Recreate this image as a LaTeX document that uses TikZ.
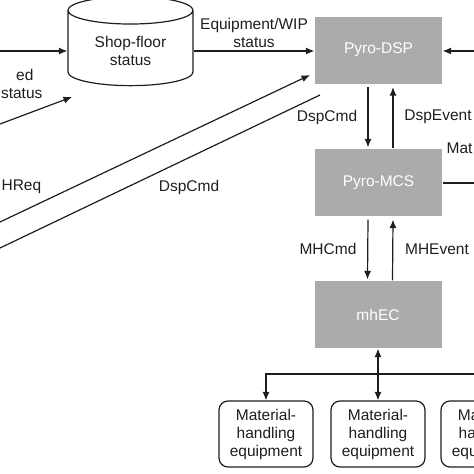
\documentclass[tikz,border=0pt]{standalone}
\usepackage{fontspec}
\setmainfont{Liberation Sans}
\usetikzlibrary{arrows.meta,shapes.geometric}
\definecolor{boxgray}{HTML}{ABABAB}
\definecolor{ink}{HTML}{1E1E1E}
\begin{document}
\begin{tikzpicture}[x=1pt,y=-1pt,
  font=\fontsize{15.5}{18}\selectfont,
  color=ink, line width=1.2pt,
  arr/.style={-{Latex[length=8.5pt,width=7pt]}},
  graybox/.style={rectangle, fill=boxgray, draw=none, text=white, minimum width=127pt, minimum height=67pt},
  eqbox/.style={rectangle, rounded corners=9pt, draw, minimum width=94pt, minimum height=66pt, align=center, inner sep=1pt},
  lbl/.style={inner sep=0pt}]
\useasboundingbox (0,0) rectangle (474,474);
%shop-floor store
\node[cylinder, shape border rotate=90, aspect=0.35, draw,
  minimum width=125pt, minimum height=89pt, align=center] (cyl) at (130.5,50.5) {Shop-floor\\status};
%controllers
\node[graybox] (dsp) at (378.5,50) {Pyro-DSP};
\node[graybox] (mcs) at (378.5,182.5) {Pyro-MCS};
\node[graybox] (mhec) at (378,314.5) {mhEC};
%equipment
\node[eqbox] (meq1) at (266,434) {Material-\\handling\\equipment};
\node[eqbox] (meq2) at (378,434) {Material-\\handling\\equipment};
\node[eqbox] (meq3) at (488,434) {Material-\\handling\\equipment};
%free ends
\coordinate (lin) at (0,51);
\coordinate (lup) at (0,124);
\coordinate (cylin) at (72,97);
\coordinate (rin) at (474,51);
\coordinate (hreq) at (0,222);
\coordinate (hreqend) at (310,75);
\coordinate (cmdbeg) at (320,95);
\coordinate (cmdend) at (0,248);
\coordinate (mcsout) at (474,183);
\coordinate (busr) at (474,374);
%into the store
\draw[arr] (lin) -- (lin -| cyl.west);
\draw[arr] (lup) -- (cylin);
\node[lbl, anchor=east] (upd) at (34,75) {ed};
\node[lbl, anchor=east] (updst) at (43,94) {status};
%store to dispatcher
\draw[arr] (cyl.east |- lin) -- (dsp.west |- lin) node[midway, above=3pt, align=center, lbl] (eqwip) {Equipment/WIP\\status};
\draw[arr] (rin) -- (dsp.east |- rin);
%long diagonals
\draw[arr] (hreq) -- (hreqend);
\draw (cmdbeg) -- (cmdend);
\node[lbl, anchor=west] (hreqlbl) at (1,187) {HReq};
\node[lbl] (dcmdlbl) at (189,187) {DspCmd};
%dispatcher and mcs
\draw[arr] ([xshift=-10.5pt,yshift=-3pt]dsp.south) -- ([xshift=-10.5pt,yshift=1pt]mcs.north);
\draw[arr] ([xshift=14.5pt]mcs.north) -- ([xshift=14.5pt,yshift=-3pt]dsp.south);
\node[lbl] (dcmd) at (327,117) {DspCmd};
\node[lbl] (devt) at (438,117) {DspEvent};
\node[lbl, anchor=west] (mat) at (446,148) {Mat};
\draw (mcs.east |- mcsout) -- (mcsout);
%mcs and mhec
\draw[arr] ([xshift=-10.5pt,yshift=-3pt]mcs.south) -- ([xshift=-10.5pt,yshift=1pt]mhec.north);
\draw[arr] ([xshift=14.5pt]mhec.north) -- ([xshift=14.5pt,yshift=-3pt]mcs.south);
\node[lbl] (mhcmd) at (328,249) {MHCmd};
\node[lbl] (mhevt) at (437,249) {MHEvent};
%mhec to equipment
\draw[{Latex[length=8.5pt,width=7pt]}-{Latex[length=8.5pt,width=7pt]}] (mhec.south) -- (meq2.north);
\draw[arr] (busr) -| (meq1.north);
\end{tikzpicture}
\end{document}
